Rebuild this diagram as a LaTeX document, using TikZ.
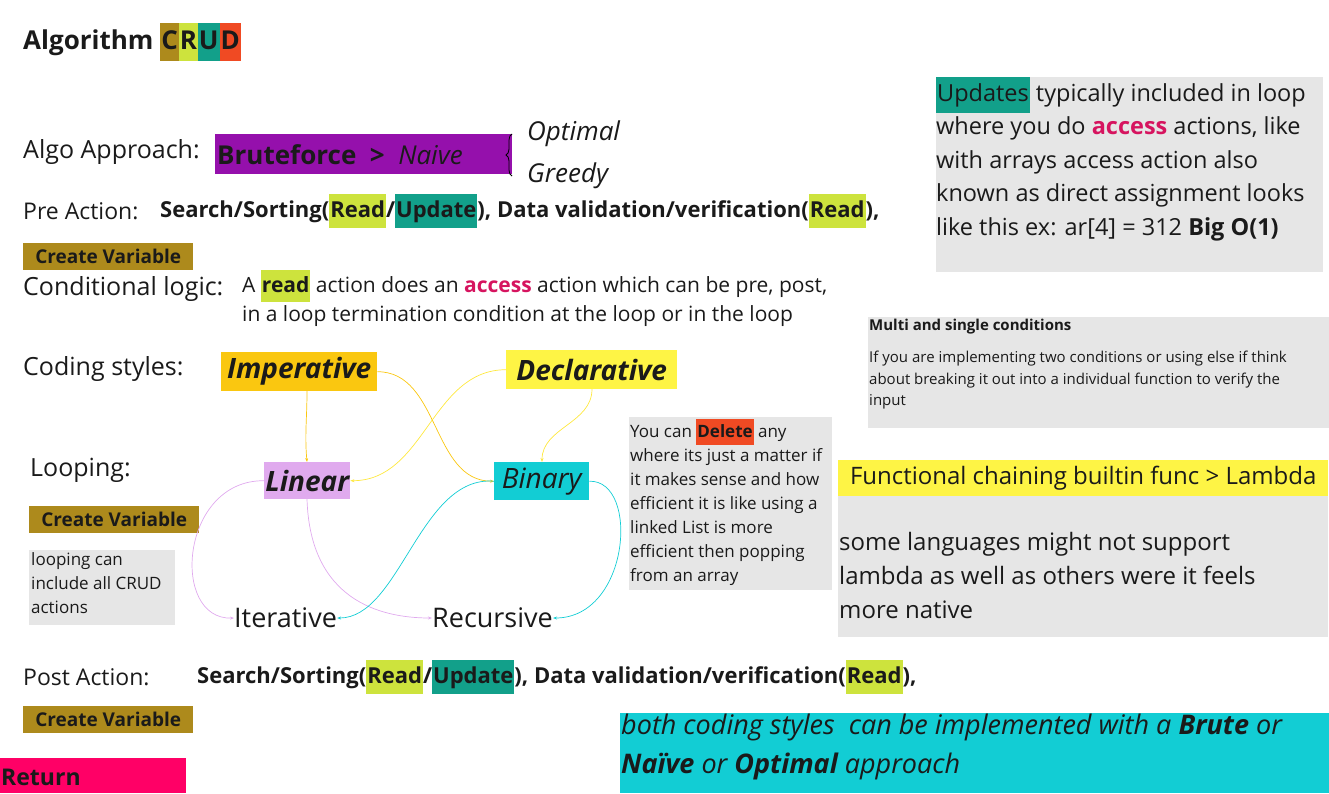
\documentclass[tikz,border=0pt]{standalone}
\usepackage{fontspec}
\setmainfont{Open Sans}
\usetikzlibrary{arrows.meta,decorations.pathreplacing}
\definecolor{olive}{HTML}{AD8A1C}
\definecolor{lime}{HTML}{CDE33D}
\definecolor{teal2}{HTML}{12A08A}
\definecolor{redo}{HTML}{F04A23}
\definecolor{purp}{HTML}{9510AC}
\definecolor{accpink}{HTML}{D6145F}
\definecolor{retpink}{HTML}{FF0066}
\definecolor{impy}{HTML}{FAC710}
\definecolor{decy}{HTML}{FEF445}
\definecolor{linp}{HTML}{E0AAEE}
\definecolor{bincy}{HTML}{12CDD4}
\definecolor{gbox}{HTML}{E6E6E6}
\definecolor{txt}{HTML}{1A1A1A}
\newcommand{\hl}[2]{{\setlength\fboxsep{1pt}\colorbox{#1}{\strut #2}}}
\newcommand{\fs}[1]{\fontsize{#1pt}{\fpeval{#1*1.42}pt}\selectfont}
\tikzset{
  lbl/.style={anchor=west,inner sep=0pt,text=txt},
  cv/.style={anchor=north west,fill=olive,minimum width=170pt,minimum height=27pt,inner sep=0pt,text=txt,font=\fs{19}\bfseries},
  gb/.style={fill=gbox,anchor=north west,inner sep=0pt},
  con/.style={-{Stealth[length=4pt,width=3pt]},line width=0.7pt},
}
\begin{document}
\begin{tikzpicture}[x=1pt,y=-1pt]
\useasboundingbox (0,0) rectangle (1329,793);
% title
\node[lbl,font=\fs{26}\bfseries] (title) at (23,42) {Algorithm \hl{olive}{C}\hl{lime}{R}\hl{teal2}{U}\hl{redo}{D}};
% algo approach
\node[lbl,font=\fs{25}] (algo) at (23,152) {Algo Approach:};
\fill[purp] (215,134) rectangle (512,174);
\node[lbl,font=\fs{26}] (brute) at (217,155) {\textbf{Bruteforce \ >} \ \textit{Naive}};
\draw[decorate,decoration={brace,amplitude=6pt},line width=0.8pt] (512,176) -- (512,134);
\node[lbl,font=\fs{26}\itshape] (opt) at (527,134) {Optimal};
\node[lbl,font=\fs{26}\itshape] (gre) at (527,176) {Greedy};
% pre action
\node[lbl,font=\fs{23}] (pre) at (23,211) {Pre Action:};
\node[lbl,font=\fs{22}\bfseries] (pret) at (160,211) {Search/Sorting(\hl{lime}{Read}/\hl{teal2}{Update}), Data validation/verification(\hl{lime}{Read}),};
\node[cv] (cv1) at (23,243) {Create Variable};
% conditional
\node[lbl,font=\fs{25}] (cond) at (23,289) {Conditional logic:};
\node[lbl,font=\fs{21},align=left,anchor=north west] (condt) at (242,270) {A \hl{lime}{\textbf{read}} action does an \textbf{\color{accpink}access} action which can be pre, post,\\in a loop termination condition at the loop or in the loop};
% coding styles
\node[lbl,font=\fs{25}] (cod) at (23,369) {Coding styles:};
\node[fill=impy,anchor=north west,minimum width=156pt,minimum height=39pt,inner sep=0pt,font=\fs{28}\bfseries\itshape,text=txt] (imp) at (221,352) {Imperative};
\node[fill=decy,anchor=north west,minimum width=171pt,minimum height=39pt,inner sep=0pt,font=\fs{28}\bfseries\itshape,text=txt] (dec) at (506,350) {Declarative};
\node[lbl,font=\fs{25}] (loop) at (30,470) {Looping:};
\node[fill=linp,anchor=north west,minimum width=86pt,minimum height=37pt,inner sep=0pt,font=\fs{28}\bfseries\itshape,text=txt] (lin) at (264,462) {Linear};
\node[fill=bincy,anchor=north west,minimum width=95pt,minimum height=38pt,inner sep=0pt,font=\fs{28}\itshape,text=txt] (bin) at (494,462) {Binary};
\node[cv] (cv2) at (29,506) {Create Variable};
\node[gb,minimum width=146pt,minimum height=75pt] (lgb) at (29,550) {};
\node[lbl,font=\fs{17},align=left,anchor=north west] (lgt) at (31,552) {looping can\\include all CRUD\\actions};
\node[lbl,font=\fs{27}] (iter) at (234,618) {Iterative};
\node[lbl,font=\fs{27}] (rec) at (432,618) {Recursive};
% connectors
\draw[con,impy] (307,391) to[out=-90,in=95] (307,462);
\draw[con,impy] (imp.east) to[out=0,in=180] (bin.west);
\draw[con,decy!90!orange] (dec.west) to[out=180,in=0] (lin.east);
\draw[con,decy!90!orange] (592,389) to[out=-90,in=90] (542,462);
\draw[con,linp] (lin.west) .. controls (180,480) and (170,620) .. (iter.west);
\draw[con,linp] (307,499) .. controls (310,600) and (380,618) .. (rec.west);
\draw[con,bincy] (bin.west) .. controls (420,475) and (400,618) .. (iter.east);
\draw[con,bincy] (bin.east) .. controls (640,480) and (630,618) .. (rec.east);
% delete box
\node[gb,minimum width=203pt,minimum height=173pt] (dgb) at (629,417) {};
\node[lbl,font=\fs{17},align=left,anchor=north west] (dgt) at (630,419) {You can \hl{redo}{\textbf{Delete}} any\\where its just a matter if\\it makes sense and how\\efficient it is like using a\\linked List is more\\efficient then popping\\from an array};
% updates box
\node[gb,minimum width=387pt,minimum height=195pt] (ugb) at (936,77) {};
\node[lbl,font=\fs{23.5},align=left,anchor=north west] (ugt) at (936,77) {\hl{teal2}{Updates} typically included in loop\\where you do \textbf{\color{accpink}access} actions, like\\with arrays access action also\\known as direct assignment looks\\like this ex: ar[4] = 312 \textbf{Big O(1)}};
% multi box
\node[gb,minimum width=461pt,minimum height=111pt] (mgb) at (868,317) {};
\node[lbl,font=\fs{15},align=left,anchor=north west] (mgt) at (869,319) {\textbf{Multi and single conditions}\\[11pt]If you are implementing two conditions or using else if think\\about breaking it out into a individual function to verify the\\input};
% functional
\node[gb,minimum width=490pt,minimum height=141pt] (fgb) at (838,496) {};
\node[fill=decy,anchor=north west,minimum width=490pt,minimum height=36pt,inner sep=0pt,font=\fs{24},text=txt] (fun) at (838,460) {Functional chaining builtin func > Lambda};
\node[lbl,font=\fs{24},align=left,anchor=north west] (fgt) at (839,532) {some languages might not support\\lambda as well as others were it feels\\more native};
% post action
\node[lbl,font=\fs{23}] (post) at (23,677) {Post Action:};
\node[lbl,font=\fs{22}\bfseries] (postt) at (197,677) {Search/Sorting(\hl{lime}{Read}/\hl{teal2}{Update}), Data validation/verification(\hl{lime}{Read}),};
\node[cv] (cv3) at (23,706) {Create Variable};
\node[fill=retpink,anchor=north west,minimum width=186pt,minimum height=35pt,inner sep=0pt] (ret) at (0,758) {};
\node[lbl,font=\fs{23}\bfseries] (rett) at (1,777) {Return};
% teal bottom
\node[fill=bincy,anchor=north west,minimum width=709pt,minimum height=80pt,inner sep=0pt] (tb) at (620,713) {};
\node[lbl,font=\fs{27}\itshape,align=left,anchor=north west] (tbt) at (621,714) {both coding styles \ can be implemented with a \textbf{Brute} or\\\textbf{Naïve} or \textbf{Optimal} approach};
\end{tikzpicture}
\end{document}
